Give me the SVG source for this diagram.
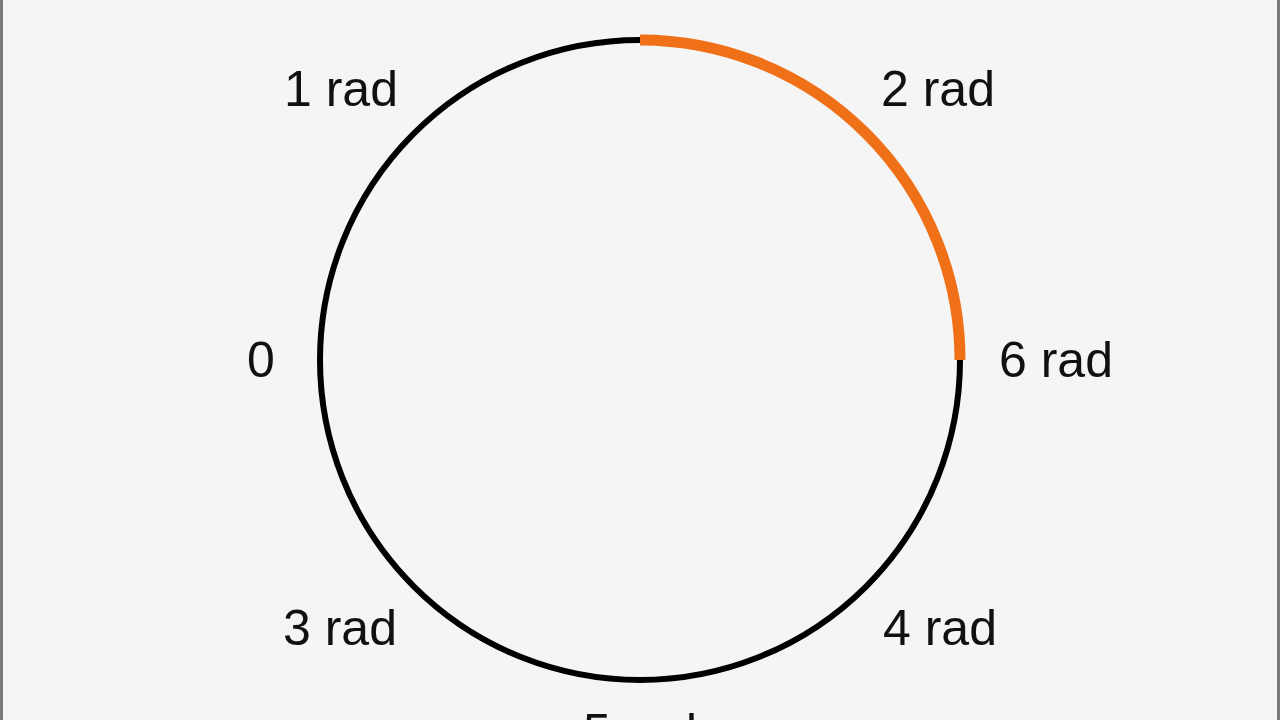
<svg xmlns="http://www.w3.org/2000/svg" width="1280" height="720" viewBox="0 0 1280 720">
<style>
.lbl{font-family:"Liberation Sans",Arial,sans-serif;font-size:50px;fill:#111}
</style>
<rect x="0" y="0" width="1280" height="720" fill="#F5F5F5"/>
<rect x="1.5" y="-5" width="1277" height="730" fill="none" stroke="#7a7a7a" stroke-width="3"/>
<g id="connectors">
<circle id="circle" cx="640" cy="360" r="320" fill="none" stroke="#000" stroke-width="6"/>
<path id="arc" d="M640,40 A320,320 0 0 1 960,360" fill="none" stroke="#F07018" stroke-width="11" stroke-linecap="butt"/>
</g>
<g id="label-0"><text class="lbl" x="247" y="377">0</text></g>
<g id="label-1"><text class="lbl" x="284" y="106">1 rad</text></g>
<g id="label-2"><text class="lbl" x="881" y="106">2 rad</text></g>
<g id="label-6"><text class="lbl" x="999" y="377">6 rad</text></g>
<g id="label-3"><text class="lbl" x="283" y="645">3 rad</text></g>
<g id="label-4"><text class="lbl" x="883" y="645">4 rad</text></g>
<g id="label-5"><text class="lbl" x="640" y="749" text-anchor="middle">5 rad</text></g>
</svg>
